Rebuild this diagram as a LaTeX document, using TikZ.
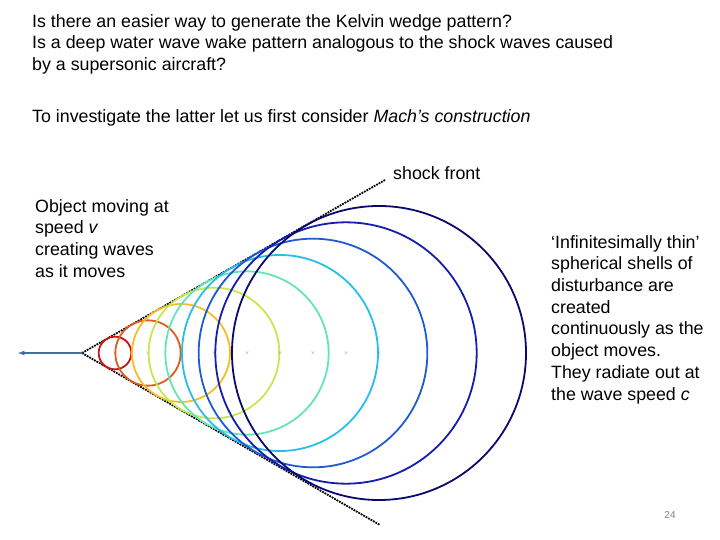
\documentclass[tikz,border=0pt]{standalone}
\usepackage{fontspec}
\setmainfont{Liberation Sans}
\begin{document}
\begin{tikzpicture}[x=1pt,y=-1pt,
  txt/.style={anchor=north west,inner sep=0pt,align=left,font=\fontsize{17.8}{21.7}\selectfont},
  front/.style={densely dotted,line width=1.8pt},
  wave/.style={line width=1.8pt}]
\useasboundingbox (0,0) rectangle (720,540);
\node[txt] (t1) at (32,14) {Is there an easier way to generate the Kelvin wedge pattern?\\Is a deep water wave wake pattern analogous to the shock waves caused\\by a supersonic aircraft?};
\node[txt] (t2) at (32,109) {To investigate the latter let us first consider \textit{Mach’s construction}};
\node[txt] (sf) at (393,166) {shock front};
\node[txt] (obj) at (35,199) {Object moving at\\speed \textit{v}\\creating waves\\as it moves};
\node[txt] (shell) at (551,235) {‘Infinitesimally thin’\\spherical shells of\\disturbance are\\created\\continuously as the\\object moves.\\They radiate out at\\the wave speed \textit{c}};
\node[font=\fontsize{10}{12}\selectfont,text=gray] (pg) at (670,515) {24};
\coordinate (apex) at (82,353);
\coordinate (top) at (385,180);
\coordinate (bot) at (380,525);
\coordinate (tip) at (18,353);
\draw[front] (apex) -- (top);
\draw[front] (apex) -- (bot);
\draw[-latex,line width=1.2pt,color={rgb,255:red,70;green,110;blue,160}] (apex) -- (tip);
\foreach \k/\c in {1/{rgb,255:red,200;green,20;blue,20},
                   2/{rgb,255:red,225;green,90;blue,30},
                   3/{rgb,255:red,245;green,190;blue,40},
                   4/{rgb,255:red,200;green,230;blue,80},
                   5/{rgb,255:red,100;green,230;blue,180},
                   6/{rgb,255:red,40;green,190;blue,230},
                   7/{rgb,255:red,30;green,90;blue,210},
                   8/{rgb,255:red,20;green,30;blue,170},
                   9/{rgb,255:red,10;green,10;blue,110}}{
  \pgfmathsetmacro{\cx}{82+33*\k}
  \pgfmathsetmacro{\r}{0.495*33*\k}
  \draw[wave,color=\c] (\cx,353) circle[radius=\r];
  \node[font=\tiny,text=gray,inner sep=0pt] (x\k) at (\cx,353) {$\times$};
}
\node[font=\tiny,text=gray,inner sep=0pt] (x0) at (82,353) {$\times$};
\end{tikzpicture}
\end{document}
